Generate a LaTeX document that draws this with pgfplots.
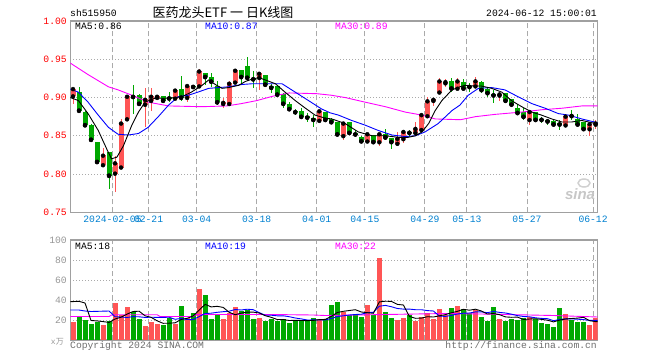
\documentclass[border=0pt]{standalone}
\usepackage{fontspec}
\setmainfont{Liberation Mono}
\newfontfamily\cjk{Noto Sans CJK SC}
\newfontfamily\logofont{Liberation Sans}
\usepackage{pgfplots}
\usepackage{pgfplotstable}
\pgfplotsset{compat=1.18}

\definecolor{cR}{RGB}{255,85,85}
\definecolor{cG}{RGB}{0,168,0}
\definecolor{cTick}{RGB}{255,0,0}
\definecolor{cDate}{RGB}{0,128,208}
\definecolor{cFrame}{RGB}{160,160,160}
\definecolor{cGrid}{RGB}{170,170,170}
\definecolor{cMag}{RGB}{255,0,255}
\definecolor{cBlue}{RGB}{0,0,255}
\definecolor{cVolTk}{RGB}{150,150,150}
\definecolor{cCopy}{RGB}{110,110,110}

% red (rising) candles: index open high low close
\pgfplotstableread{
i o h l c
0 .902 .912 .891 .911
5 .812 .834 .810 .824
7 .801 .824 .777 .814
8 .809 .872 .807 .866
9 .872 .901 .870 .901
12 .891 .913 .861 .897
13 .896 .913 .883 .901
14 .900 .902 .897 .901
17 .899 .909 .898 .909
19 .900 .916 .894 .915
21 .915 .937 .913 .934
25 .892 .899 .886 .893
26 .892 .921 .890 .918
27 .920 .937 .918 .935
31 .926 .933 .910 .931
41 .870 .883 .868 .882
45 .850 .866 .844 .866
49 .843 .853 .842 .852
51 .842 .852 .837 .852
54 .840 .855 .839 .846
55 .846 .855 .840 .855
57 .854 .868 .853 .859
58 .858 .877 .857 .877
59 .876 .901 .875 .895
60 .896 .900 .889 .897
61 .907 .925 .905 .921
62 .919 .924 .914 .920
64 .912 .925 .910 .921
67 .915 .927 .914 .921
71 .903 .906 .896 .904
76 .871 .882 .864 .881
82 .864 .879 .862 .875
86 .859 .865 .850 .865
87 .865 .871 .859 .866
}\redK

% green (falling) candles
\pgfplotstableread{
i o h l c
1 .907 .914 .881 .883
2 .880 .883 .861 .864
3 .863 .865 .844 .845
4 .841 .841 .815 .816
6 .828 .829 .780 .798
10 .902 .916 .879 .901
11 .903 .904 .890 .892
15 .901 .902 .894 .896
16 .900 .907 .894 .899
18 .910 .928 .896 .900
20 .915 .917 .913 .914
22 .932 .932 .916 .927
23 .926 .932 .914 .921
24 .915 .921 .890 .894
28 .935 .935 .918 .927
29 .941 .953 .921 .926
30 .925 .935 .913 .924
32 .929 .929 .914 .917
33 .914 .918 .906 .913
34 .915 .915 .903 .904
35 .904 .906 .886 .892
36 .891 .894 .883 .885
37 .882 .885 .877 .881
38 .882 .886 .872 .875
39 .875 .880 .868 .874
40 .873 .877 .861 .871
42 .880 .880 .868 .871
43 .872 .873 .867 .868
44 .867 .867 .850 .852
46 .867 .868 .852 .854
47 .853 .857 .848 .852
48 .848 .850 .842 .843
50 .850 .851 .840 .842
52 .852 .859 .844 .848
53 .846 .846 .833 .842
56 .855 .858 .848 .854
63 .921 .925 .907 .912
65 .920 .924 .910 .912
66 .915 .919 .907 .914
68 .920 .921 .906 .910
69 .910 .912 .901 .906
70 .904 .910 .893 .903
72 .905 .906 .894 .896
73 .898 .898 .889 .891
74 .886 .892 .879 .880
75 .881 .886 .871 .875
77 .880 .880 .870 .871
78 .872 .875 .867 .871
79 .870 .872 .864 .869
80 .869 .872 .864 .865
81 .866 .870 .857 .865
83 .877 .884 .870 .876
84 .872 .879 .864 .865
85 .867 .867 .858 .859
}\grnK

\pgfplotstableread{
i v
0 18.3
5 15
7 37
8 25
9 33.3
12 14
13 17.7
14 15.7
17 16
19 21.7
21 51
25 21
26 26.7
27 33
31 22
41 21
45 28.3
49 35
51 82.3
54 20
55 22.3
57 19
58 23.3
59 26.7
60 21
61 31
62 25
64 34
67 30
71 21
76 23.3
82 26
86 15
87 21.7
}\redV

\pgfplotstableread{
i v
1 23.3
2 20
3 16
4 17.7
6 19.3
10 27.7
11 21
15 15
16 21.7
18 34
20 26.7
22 45
23 21
24 25
28 29
29 30
30 21
32 19.3
33 21
34 19.3
35 21
36 17
37 20
38 20
39 19
40 22
42 21
43 35
44 38.3
46 25
47 25
48 23.3
50 25
52 28.3
53 22.3
56 25
63 32.3
65 31
66 26.7
68 23.3
69 19
70 33.3
72 19
73 21
74 20
75 21.7
77 20.7
78 17.3
79 16
80 13.3
81 32.3
83 20
84 17.7
85 17.7
}\grnV

\newcommand{\mono}{\fontsize{9.7}{11}\selectfont}

\pgfplotsset{
  kframe/.style={
    scale only axis, width=527.4pt, anchor=south west,
    xmin=-0.45, xmax=87.35,
    axis line style={draw=cFrame, line width=1.2pt},
    major tick length=0pt,
    xtick={6.58,12.58,20.58,30.58,40.58,48.58,58.58,65.58,75.58,86.58},
    xmajorgrids, ymajorgrids,
    major x grid style={draw=cGrid, line width=0.9pt, dash pattern=on 5pt off 3pt},
    major y grid style={draw=cGrid, line width=0.9pt, dash pattern=on 1pt off 2pt},
    tick label style={font=\mono},
  },
  wick/.style={only marks, mark=none, forget plot,
    error bars/.cd, y dir=both, y explicit, error mark=none,
    error bar style={draw=#1, line width=1pt}},
  body/.style={only marks, mark=none, forget plot,
    error bars/.cd, y dir=plus, y explicit, error mark=none,
    error bar style={draw=#1, line width=5pt}},
}

\begin{document}
\begin{tikzpicture}[x=1pt,y=1pt]
\useasboundingbox (0,0) rectangle (660,360);

% ---------- price panel ----------
\begin{axis}[kframe,
  at={(70.3pt,147.7pt)}, height=191.3pt,
  ymin=0.75, ymax=1.0,
  ytick={0.75,0.8,0.85,0.9,0.95,1},
  yticklabels={0.75,0.80,0.85,0.90,0.95,1.00},
  yticklabel style={text=cTick},
  xticklabels={2024-02-05,02-21,03-04,03-18,04-01,04-15,04-29,05-13,05-27,06-12},
  xticklabel style={text=cDate},
]
\addplot[wick=cR] table[x=i, y=c, y error plus expr=\thisrow{h}-\thisrow{c}, y error minus expr=\thisrow{c}-\thisrow{l}] {\redK};
\addplot[wick=cG] table[x=i, y=c, y error plus expr=\thisrow{h}-\thisrow{c}, y error minus expr=\thisrow{c}-\thisrow{l}] {\grnK};
\addplot[body=cR] table[x=i, y expr={min(\thisrow{o},\thisrow{c})-0.0005}, y error plus expr={abs(\thisrow{c}-\thisrow{o})+0.001}] {\redK};
\addplot[body=cG] table[x=i, y expr={min(\thisrow{o},\thisrow{c})-0.0005}, y error plus expr={abs(\thisrow{c}-\thisrow{o})+0.001}] {\grnK};

% MA30
\addplot[cMag, line width=0.9pt] coordinates {(-0.45,.945)(2.5,.930)(5.9,.914)(7.5,.910)(9.8,.903)(12.5,.894)(15.9,.889)(21.4,.888)(25.6,.889)(28,.892)(30.6,.896)(33.4,.902)(36,.906)(40.6,.905)(43,.903)(45.3,.900)(48.6,.894)(52,.888)(55.3,.881)(58.1,.877)(60.3,.872)(64.5,.871)(67,.875)(70.3,.878)(74.7,.881)(78,.884)(81.4,.886)(84.7,.889)(87.35,.889)};
% MA10
\addplot[cBlue, line width=0.9pt] coordinates {(-0.45,.911)(0.9,.907)(2.5,.894)(4.2,.877)(5.9,.861)(7.5,.852)(9.2,.851)(10.9,.853)(12.5,.861)(14.2,.875)(15.9,.890)(17.5,.901)(19.2,.903)(20.4,.906)(22.6,.912)(25.9,.914)(28.1,.917)(29.8,.918)(32,.918)(34.8,.918)(37,.907)(39.2,.896)(41.4,.885)(42.8,.880)(44.2,.877)(46.4,.870)(48.6,.864)(50.8,.857)(53.1,.851)(55.3,.849)(57,.850)(58.6,.855)(60.8,.866)(63.1,.883)(64.4,.890)(65.8,.903)(67.5,.912)(69.7,.913)(71.9,.910)(74.1,.901)(76.4,.892)(78.6,.886)(80.8,.879)(82.5,.877)(84.7,.872)(87.35,.867)};
% MA5
\addplot[black, line width=0.9pt] coordinates {(-0.45,.900)(0.9,.896)(2.5,.879)(4.2,.857)(5.6,.833)(6.4,.820)(7.3,.822)(8.4,.837)(9.8,.864)(10.9,.881)(12,.894)(13.6,.899)(15.9,.899)(18.1,.901)(19.7,.907)(21.5,.916)(22.6,.923)(23.7,.917)(24.8,.912)(25.9,.913)(27.6,.916)(28.7,.921)(29.8,.924)(30.9,.926)(32,.923)(33.7,.918)(35.3,.907)(37,.896)(38.7,.886)(40.3,.877)(42,.873)(43.1,.872)(45.3,.866)(47.5,.855)(49.8,.850)(52,.850)(54.2,.848)(55.8,.848)(57,.850)(58.1,.855)(59.2,.866)(60.3,.883)(61.4,.896)(63.1,.910)(64.4,.914)(65.3,.916)(66.9,.915)(68,.915)(69.7,.912)(71.4,.907)(73,.896)(74.7,.888)(76.4,.881)(78,.877)(79.7,.872)(81.4,.868)(83,.868)(84.7,.870)(86.4,.867)(87.35,.866)};
\end{axis}

% ---------- volume panel ----------
\begin{axis}[kframe,
  at={(70.3pt,20pt)}, height=100pt,
  ymin=0, ymax=100,
  ytick={20,40,60,80,100},
  yticklabels={20,40,60,80,100},
  yticklabel style={text=cVolTk},
  xticklabels={},
]
\addplot[ycomb, draw=cR, line width=5pt, mark=none, forget plot] table[x=i,y=v] {\redV};
\addplot[ycomb, draw=cG, line width=5pt, mark=none, forget plot] table[x=i,y=v] {\grnV};
% vol MA30
\addplot[cMag, line width=0.9pt] coordinates {(-0.45,23.5)(6,23.5)(6.5,25.3)(14,25.3)(14.5,23.5)(20,23.5)(20.5,25.5)(33,25.5)(40,25)(42,24.5)(50,25.3)(62,26.5)(68,26)(72,25.5)(80,24.5)(87.35,23)};
% vol MA10
\addplot[cBlue, line width=0.9pt] coordinates {(-0.45,30)(1,30)(2,29)(3,28.5)(6,29)(7,23.3)(8,23)(9,22.5)(10,23.4)(11,23.2)(12,22.6)(13,22.8)(14,22.6)(15,22.6)(16,22.8)(17,20.7)(18,21.6)(19,20.5)(20,20.4)(21,23.4)(22,26.5)(23,26.8)(24,27.7)(25,28.3)(26,28.8)(27,30.5)(28,30)(29,30.8)(30,30.3)(31,27.4)(32,24.8)(33,24.8)(34,24.2)(35,24.2)(36,23.3)(37,22)(38,21.1)(39,20)(40,20.1)(41,20)(42,20.1)(43,21.5)(44,23.4)(45,24.2)(46,25)(47,25.5)(48,25.8)(49,27.4)(50,27.7)(51,33.8)(52,34.6)(53,33.3)(54,31.5)(55,30.9)(56,30.9)(57,30.3)(58,30.3)(59,29.4)(60,29)(61,23.9)(62,23.6)(63,24.6)(64,26)(65,26.8)(66,27)(67,28.1)(68,28.1)(69,27.3)(70,28.6)(71,27.6)(72,27)(73,25.8)(74,24.4)(75,23.5)(76,23.2)(77,22.2)(78,21.6)(79,21.3)(80,19.3)(81,20.5)(82,21.2)(83,21.1)(84,20.8)(85,20.4)(86,19.6)(87,19.7)(87.35,19.7)};
% vol MA5
\addplot[black, line width=0.9pt] coordinates {(-0.45,38.3)(1,38.7)(2,37)(3,19.5)(4,19.1)(5,18.4)(6,17.6)(7,21)(8,22.8)(9,25.9)(10,28.5)(11,28.8)(12,24.2)(13,22.7)(14,19.2)(15,16.7)(16,16.8)(17,17.2)(18,20.5)(19,21.7)(20,24)(21,29.9)(22,35.7)(23,33.1)(24,33.7)(25,32.6)(26,27.7)(27,25.3)(28,26.9)(29,27.9)(30,27.9)(31,27)(32,24.3)(33,22.7)(34,20.5)(35,20.5)(36,19.5)(37,19.7)(38,19.5)(39,19.4)(40,19.6)(41,20.4)(42,20.6)(43,23.6)(44,27.5)(45,28.7)(46,29.5)(47,30.3)(48,28)(49,27.3)(50,26.7)(51,38.1)(52,38.8)(53,38.6)(54,35.6)(55,35)(56,23.6)(57,21.7)(58,21.9)(59,23.3)(60,23)(61,24.2)(62,25.4)(63,27.2)(64,28.7)(65,30.7)(66,29.8)(67,30.8)(68,29)(69,26)(70,26.5)(71,25.3)(72,23.1)(73,22.7)(74,22.9)(75,20.5)(76,21)(77,21.3)(78,20.6)(79,19.8)(80,18.1)(81,19.9)(82,21)(83,21.5)(84,21.9)(85,22.7)(86,19.3)(87,18.4)(87.35,18.4)};
\end{axis}

% ---------- texts ----------
\node[anchor=west, inner sep=0pt, font=\mono] at (70,347) {sh515950};
\node[anchor=center, inner sep=0pt, font=\cjk\fontsize{13}{14}\selectfont] at (223,347.5) {医药龙头ETF 一 日K线图};
\node[anchor=east, inner sep=0pt, font=\mono] at (597,347) {2024-06-12 15:00:01};

\node[anchor=west, inner sep=0pt, font=\mono] at (75,334) {MA5:0.86};
\node[anchor=west, inner sep=0pt, font=\mono, text=cBlue] at (205,334) {MA10:0.87};
\node[anchor=west, inner sep=0pt, font=\mono, text=cMag] at (335,334) {MA30:0.89};

\node[anchor=west, inner sep=0pt, font=\mono] at (75,113.5) {MA5:18};
\node[anchor=west, inner sep=0pt, font=\mono, text=cBlue] at (205,113.5) {MA10:19};
\node[anchor=west, inner sep=0pt, font=\mono, text=cMag] at (335,113.5) {MA30:22};

\node[anchor=east, inner sep=0pt, text=cVolTk, font=\fontsize{8}{9}\selectfont] at (64,18) {x\cjk 万};

\node[anchor=west, inner sep=0pt, font=\mono, text=cCopy] at (70,14) {Copyright 2024 SINA.COM};
\node[anchor=east, inner sep=0pt, font=\mono, text=cCopy] at (597,14) {http://finance.sina.com.cn};

\node[anchor=center, inner sep=0pt, text=black!22, font=\logofont\bfseries\itshape\fontsize{15}{16}\selectfont] at (580,166) {sina};
\draw[black!18, line width=1.5pt] (584,177) ellipse (6 and 4);
\end{tikzpicture}
\end{document}
